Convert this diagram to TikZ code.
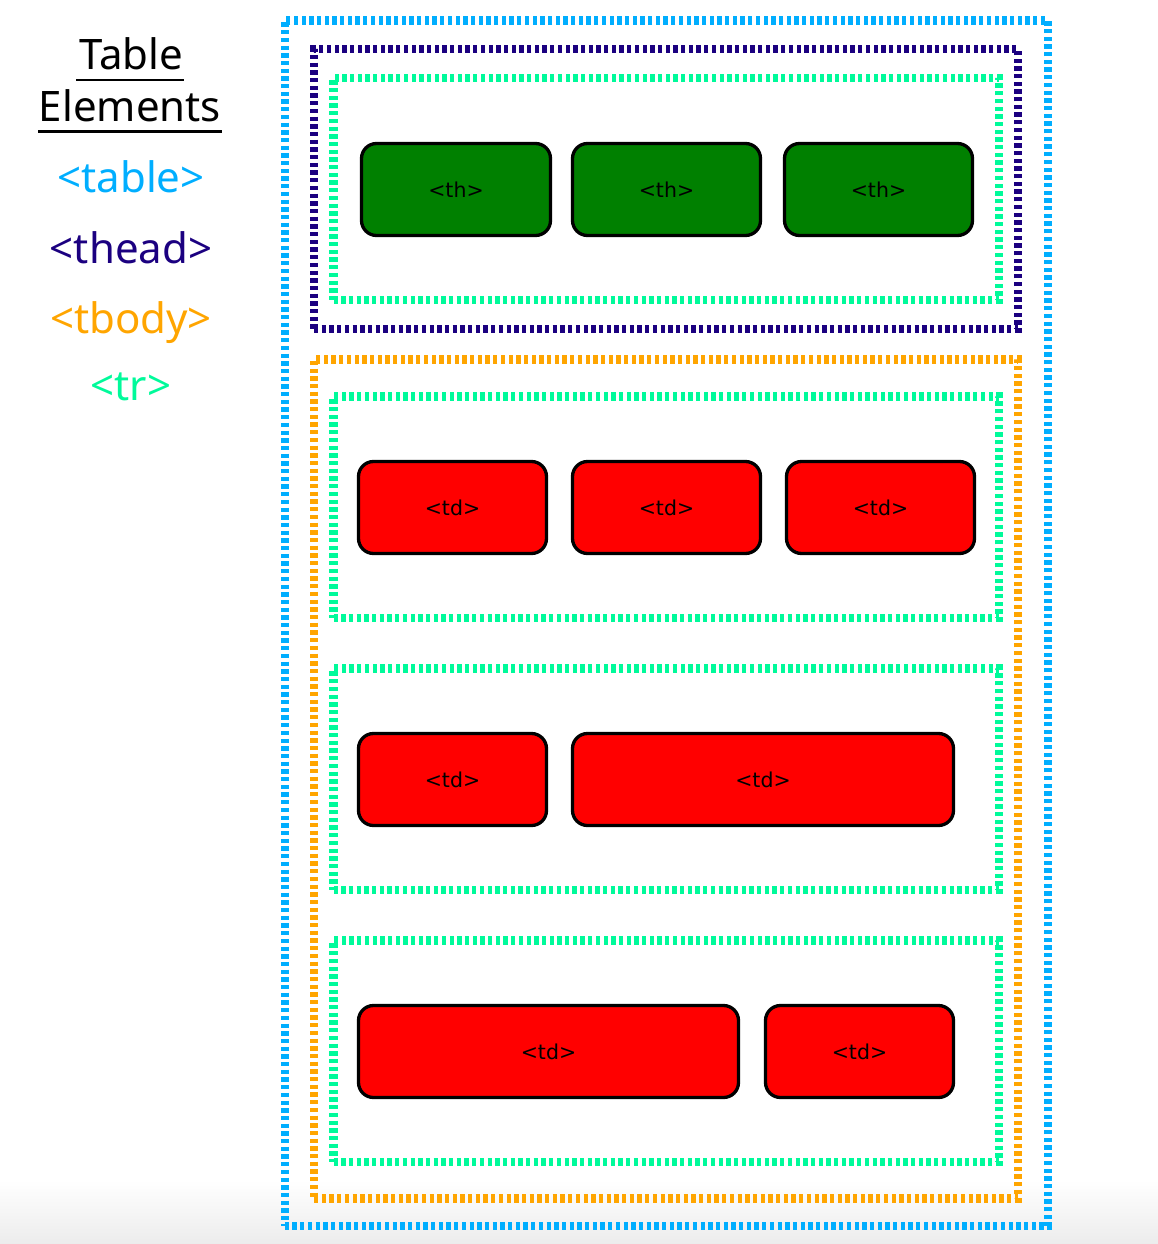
\documentclass[tikz,border=0pt]{standalone}
\usepackage{fontspec}
\setmainfont{Noto Sans}
\newfontfamily\cellfont{DejaVu Sans}
\definecolor{tblblue}{RGB}{0,174,255}
\definecolor{theadnavy}{RGB}{27,0,128}
\definecolor{tbodyorange}{RGB}{255,165,0}
\definecolor{trgreen}{RGB}{0,250,154}
\definecolor{thgreen}{RGB}{0,128,0}
\definecolor{tdred}{RGB}{255,0,0}
\definecolor{bottomgray}{RGB}{236,236,236}
\begin{document}
\begin{tikzpicture}[x=1pt,y=-1pt,
  frame/.style={draw=#1, line width=8.5pt, dash pattern=on 4.3pt off 3.4pt, inner sep=0pt, outer sep=0pt, fill=none},
  cell/.style={draw=black, line width=3.3pt, fill=#1, rounded corners=15pt, inner sep=0pt,
    minimum height=92pt, font=\cellfont\fontsize{20.5}{24}\selectfont, text=black},
  legend/.style={anchor=base, inner sep=0pt, font=\fontsize{42}{50}\selectfont}
]
\useasboundingbox (0,0) rectangle (1158,1244);
\shade[top color=white, bottom color=bottomgray, draw=none] (0,1180) rectangle (1158,1244);

% frames
\node[frame=tblblue, minimum width=763pt, minimum height=1205.5pt] (table) at (666.25,623.25) {};
\node[frame=theadnavy, minimum width=704pt, minimum height=280pt] (thead) at (666,189) {};
\node[frame=tbodyorange, minimum width=704pt, minimum height=839pt] (tbody) at (666,779) {};
\node[frame=trgreen, minimum width=665.5pt, minimum height=222pt] (trh) at (666.25,189) {};
\node[frame=trgreen, minimum width=665.5pt, minimum height=221.5pt] (tra) at (666.25,507.25) {};
\node[frame=trgreen, minimum width=665.5pt, minimum height=221.5pt] (trb) at (666.25,779.25) {};
\node[frame=trgreen, minimum width=665.5pt, minimum height=221.5pt] (trc) at (666.25,1051.25) {};

% header cells
\node[cell=thgreen, minimum width=189pt] (th1) at (456,189.5) {<th>};
\node[cell=thgreen, minimum width=188pt] (th2) at (666.5,189.5) {<th>};
\node[cell=thgreen, minimum width=188pt] (th3) at (878.5,189.5) {<th>};

% body row 1
\node[cell=tdred, minimum width=188pt] (td11) at (452.5,507.5) {<td>};
\node[cell=tdred, minimum width=188pt] (td12) at (666.5,507.5) {<td>};
\node[cell=tdred, minimum width=188pt] (td13) at (880.5,507.5) {<td>};
% body row 2
\node[cell=tdred, minimum width=188pt] (td21) at (452.5,779.5) {<td>};
\node[cell=tdred, minimum width=381pt] (td22) at (763,779.5) {<td>};
% body row 3
\node[cell=tdred, minimum width=380pt] (td31) at (548.5,1051.5) {<td>};
\node[cell=tdred, minimum width=188pt] (td32) at (859.5,1051.5) {<td>};

% legend
\node[legend] (ltitle1) at (131,70) {Table};
\draw[line width=2.5pt] (76,80) -- (184,80);
\node[legend] (ltitle2) at (130,121.5) {Elements};
\draw[line width=2.5pt] (38,131.5) -- (222,131.5);
\node[legend, text=tblblue] (ltable) at (131,192) {<table>};
\node[legend, text=theadnavy] (lthead) at (131,263) {<thead>};
\node[legend, text=tbodyorange] (ltbody) at (131,333) {<tbody>};
\node[legend, text=trgreen] (ltr) at (131,400) {<tr>};
\end{tikzpicture}
\end{document}
